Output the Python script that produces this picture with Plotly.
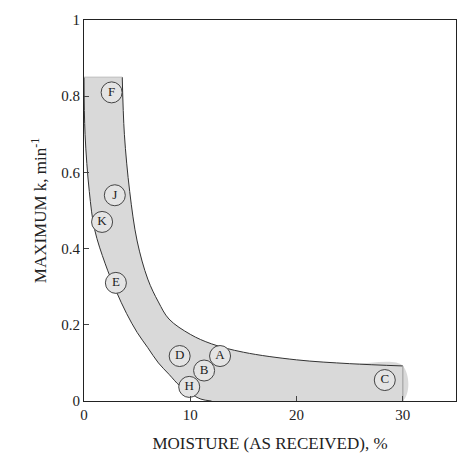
import plotly.graph_objects as go

# sample points
labels = ['F', 'J', 'K', 'E', 'D', 'A', 'B', 'H', 'C']
moisture = [2.6, 2.9, 1.7, 3.0, 9.0, 12.8, 11.3, 9.9, 28.3]
max_k = [0.81, 0.54, 0.47, 0.31, 0.118, 0.118, 0.08, 0.037, 0.055]

# band boundaries
upper_x = [3.6, 3.8, 4.3, 5, 6, 7, 8, 10, 12, 15, 20, 25, 30]
upper_y = [0.85, 0.70, 0.55, 0.42, 0.32, 0.26, 0.215, 0.175, 0.15, 0.128, 0.108, 0.098, 0.092]
lower_x = [0, 0.1, 0.5, 1, 2, 3, 4, 5, 6, 7, 8, 9, 10, 11, 12]
lower_y = [0.85, 0.70, 0.55, 0.45, 0.36, 0.29, 0.23, 0.18, 0.14, 0.10, 0.07, 0.04, 0.02, 0.005, 0]

band_x = upper_x + [30, 12] + lower_x[::-1]
band_y = upper_y + [0, 0] + lower_y[::-1]

fig = go.Figure()
fig.add_trace(go.Scatter(x=band_x, y=band_y, fill='toself', fillcolor='#d9d9d9',
                         mode='lines', line=dict(width=0, shape='spline'), hoverinfo='skip'))
fig.add_trace(go.Scatter(x=upper_x, y=upper_y, mode='lines', line=dict(color='#333', width=1, shape='spline')))
fig.add_trace(go.Scatter(x=lower_x, y=lower_y, mode='lines', line=dict(color='#333', width=1, shape='spline')))
fig.add_trace(go.Scatter(x=[30, 30], y=[0, upper_y[-1]], mode='lines', line=dict(color='#999', width=1)))
fig.add_trace(go.Scatter(x=[0, 3.6], y=[0.85, 0.85], mode='lines', line=dict(color='#bbb', width=1)))
fig.add_trace(go.Scatter(
    x=moisture, y=max_k, mode='markers+text', text=labels, textposition='middle center',
    textfont=dict(family='Liberation Serif', size=13, color='#222'),
    marker=dict(size=21, color='#e4e4e4', line=dict(color='#444', width=1))))

fig.update_layout(
    width=474, height=464, showlegend=False,
    margin=dict(l=76, r=26, t=12, b=71),
    plot_bgcolor='white', paper_bgcolor='white',
    font=dict(family='Liberation Serif', size=15, color='#222'),
    xaxis=dict(range=[0, 35], tickvals=[0, 10, 20, 30], showgrid=False, zeroline=False,
               showline=True, mirror=True, linecolor='#222', ticks='inside', ticklen=5,
               automargin=False,
               title=dict(text='MOISTURE (AS RECEIVED), %', font=dict(size=17), standoff=15)),
    yaxis=dict(range=[0, 1], tickvals=[0, 0.2, 0.4, 0.6, 0.8, 1], showgrid=False, zeroline=False,
               showline=True, mirror=True, linecolor='#222', ticks='inside', ticklen=5,
               automargin=False,
               title=dict(text='MAXIMUM k, min<sup>-1</sup>', font=dict(size=17), standoff=10)),
)

fig.write_html("out.html")
